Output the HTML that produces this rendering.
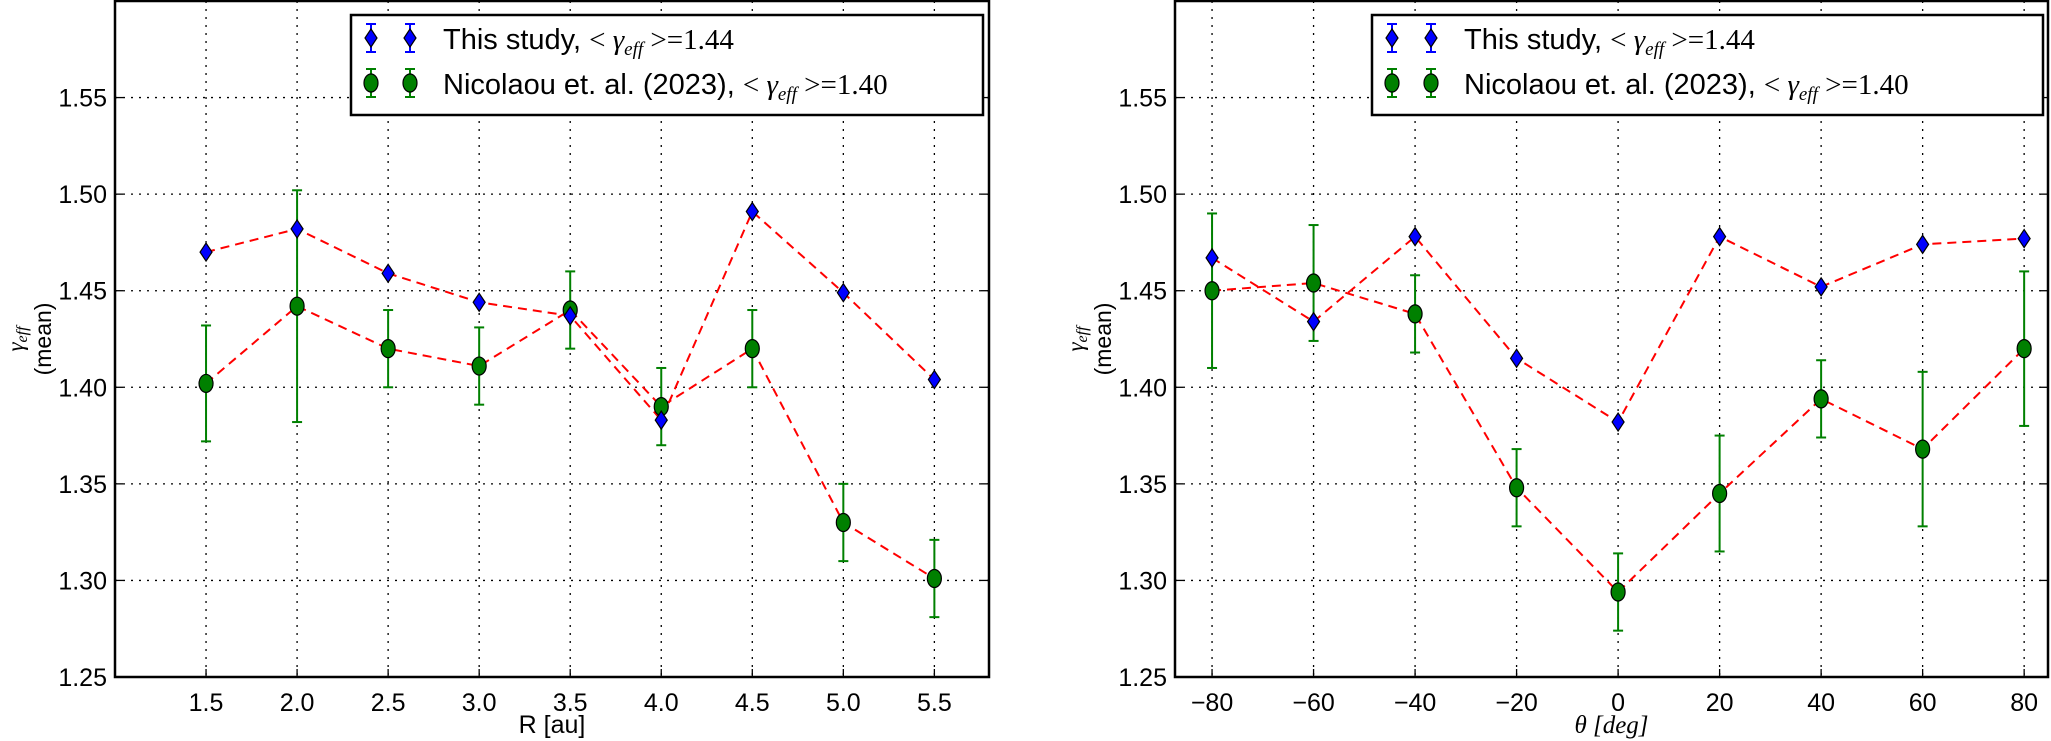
<!DOCTYPE html>
<html><head><meta charset="utf-8"><style>
html,body{margin:0;padding:0;background:#fff;}
svg{display:block;font-family:"Liberation Sans","DejaVu Sans",sans-serif;}
</style></head><body>
<svg id="s" width="2051" height="741" viewBox="0 0 2051 741" xmlns="http://www.w3.org/2000/svg"></svg>
<script>
const S=document.getElementById('s');let h='';
function plot(o){
 const L=o.L,R=o.R,T=1,B=677;
 const X=v=>L+(v-o.x0)/(o.x1-o.x0)*(R-L);
 const Y=v=>B-(v-1.25)/0.35*(B-T);
 for(const t of o.ticks){const x=X(t);h+=`<line x1="${x}" y1="${T}" x2="${x}" y2="${B}" stroke="#000" stroke-width="1.3" stroke-dasharray="2,6"/>`;
  h+=`<line x1="${x}" y1="${B}" x2="${x}" y2="${B-8}" stroke="#000" stroke-width="1.3"/>`;
  h+=`<text x="${x}" y="711" font-size="25" text-anchor="middle">${o.fmt(t)}</text>`;}
 for(let i=0;i<=6;i++){const v=1.25+i*0.05,y=Y(v);
  if(i>0)h+=`<line x1="${L}" y1="${y}" x2="${R}" y2="${y}" stroke="#000" stroke-width="1.3" stroke-dasharray="2,6"/>`;
  h+=`<line x1="${L}" y1="${y}" x2="${L+8}" y2="${y}" stroke="#000" stroke-width="1.3"/><line x1="${R}" y1="${y}" x2="${R-8}" y2="${y}" stroke="#000" stroke-width="1.3"/>`;
  h+=`<text x="${L-8}" y="${y+9}" font-size="25" text-anchor="end">${v.toFixed(2)}</text>`;}
 for(const s of [o.g,o.b]){h+=`<polyline fill="none" stroke="#f00" stroke-width="2" stroke-dasharray="9,6" points="${o.xs.map((x,i)=>X(x)+','+Y(s[i][0])).join(' ')}"/>`;}
 o.xs.forEach((x,i)=>{const[v,e]=o.g[i];const px=X(x);
  h+=`<line x1="${px}" y1="${Y(v-e)}" x2="${px}" y2="${Y(v+e)}" stroke="#008000" stroke-width="2"/><line x1="${px-5}" y1="${Y(v-e)}" x2="${px+5}" y2="${Y(v-e)}" stroke="#008000" stroke-width="2"/><line x1="${px-5}" y1="${Y(v+e)}" x2="${px+5}" y2="${Y(v+e)}" stroke="#008000" stroke-width="2"/>`;
  h+=`<ellipse cx="${px}" cy="${Y(v)}" rx="7" ry="9" fill="#008000" stroke="#000" stroke-width="1.2"/>`;});
 o.xs.forEach((x,i)=>{const v=o.b[i][0];const px=X(x),py=Y(v);
  h+=`<line x1="${px}" y1="${py-8}" x2="${px}" y2="${py+8}" stroke="#00f" stroke-width="2"/>`;
  h+=`<polygon points="${px},${py-9} ${px+6},${py} ${px},${py+9} ${px-6},${py}" fill="#00f" stroke="#000" stroke-width="1.2"/>`;});
 h+=`<rect x="${L}" y="${T}" width="${R-L}" height="${B-T}" fill="none" stroke="#000" stroke-width="2.5"/>`;
 const lx=o.lx,lr=o.lr;
 h+=`<rect x="${lx}" y="15" width="${lr-lx}" height="100" fill="#fff" stroke="#000" stroke-width="2.5"/>`;
 for(const[k,yy]of [[0,38],[1,83]]){for(const mx of [lx+20,lx+59]){
   if(k==0){h+=`<line x1="${mx}" y1="${yy-14}" x2="${mx}" y2="${yy+14}" stroke="#00f" stroke-width="2"/><line x1="${mx-5}" y1="${yy-14}" x2="${mx+5}" y2="${yy-14}" stroke="#00f" stroke-width="2"/><line x1="${mx-5}" y1="${yy+14}" x2="${mx+5}" y2="${yy+14}" stroke="#00f" stroke-width="2"/><polygon points="${mx},${yy-9} ${mx+6},${yy} ${mx},${yy+9} ${mx-6},${yy}" fill="#00f" stroke="#000" stroke-width="1.2"/>`;}
   else{h+=`<line x1="${mx}" y1="${yy-14}" x2="${mx}" y2="${yy+14}" stroke="#008000" stroke-width="2"/><line x1="${mx-5}" y1="${yy-14}" x2="${mx+5}" y2="${yy-14}" stroke="#008000" stroke-width="2"/><line x1="${mx-5}" y1="${yy+14}" x2="${mx+5}" y2="${yy+14}" stroke="#008000" stroke-width="2"/><ellipse cx="${mx}" cy="${yy}" rx="7" ry="9" fill="#008000" stroke="#000" stroke-width="1.2"/>`;}}}
 h+=`<text x="${lx+92}" y="49" font-size="29">This study, <tspan font-family="Liberation Serif,serif">&lt; <tspan font-style="italic">γ<tspan font-size="19" dy="6">eff</tspan></tspan><tspan dy="-6"> &gt;=1.44</tspan></tspan></text>`;
 h+=`<text x="${lx+92}" y="94" font-size="29">Nicolaou et. al. (2023), <tspan font-family="Liberation Serif,serif">&lt; <tspan font-style="italic">γ<tspan font-size="19" dy="6">eff</tspan></tspan><tspan dy="-6"> &gt;=1.40</tspan></tspan></text>`;
 h+=`<text x="${(L+R)/2}" y="733" font-size="25" text-anchor="middle">${o.xl}</text>`;
 h+=`<text transform="translate(${o.yl},339) rotate(-90)" font-size="23" text-anchor="middle"><tspan x="0" y="-22" font-family="Liberation Serif,serif" font-style="italic">γ<tspan font-size="16" dy="4">eff</tspan></tspan><tspan x="0" y="6">(mean)</tspan></text>`;
}
plot({L:115,R:989,x0:1.0,x1:5.8,ticks:[1.5,2,2.5,3,3.5,4,4.5,5,5.5],fmt:t=>t.toFixed(1),
 xs:[1.5,2,2.5,3,3.5,4,4.5,5,5.5],
 b:[[1.470],[1.482],[1.459],[1.444],[1.437],[1.383],[1.491],[1.449],[1.404]],
 g:[[1.402,.03],[1.442,.06],[1.420,.02],[1.411,.02],[1.440,.02],[1.390,.02],[1.420,.02],[1.330,.02],[1.301,.02]],
 lx:351,lr:983,xl:'R [au]',yl:45});
plot({L:1175,R:2048,x0:-87.3,x1:84.7,ticks:[-80,-60,-40,-20,0,20,40,60,80],fmt:t=>(t<0?'−'+(-t):''+t),
 xs:[-80,-60,-40,-20,0,20,40,60,80],
 b:[[1.467],[1.434],[1.478],[1.415],[1.382],[1.478],[1.452],[1.474],[1.477]],
 g:[[1.450,.04],[1.454,.03],[1.438,.02],[1.348,.02],[1.294,.02],[1.345,.03],[1.394,.02],[1.368,.04],[1.420,.04]],
 lx:1372,lr:2043,xl:'<tspan font-family="Liberation Serif,serif" font-style="italic">θ [deg]</tspan>',yl:1105});
S.innerHTML=h;
</script>
</body></html>
